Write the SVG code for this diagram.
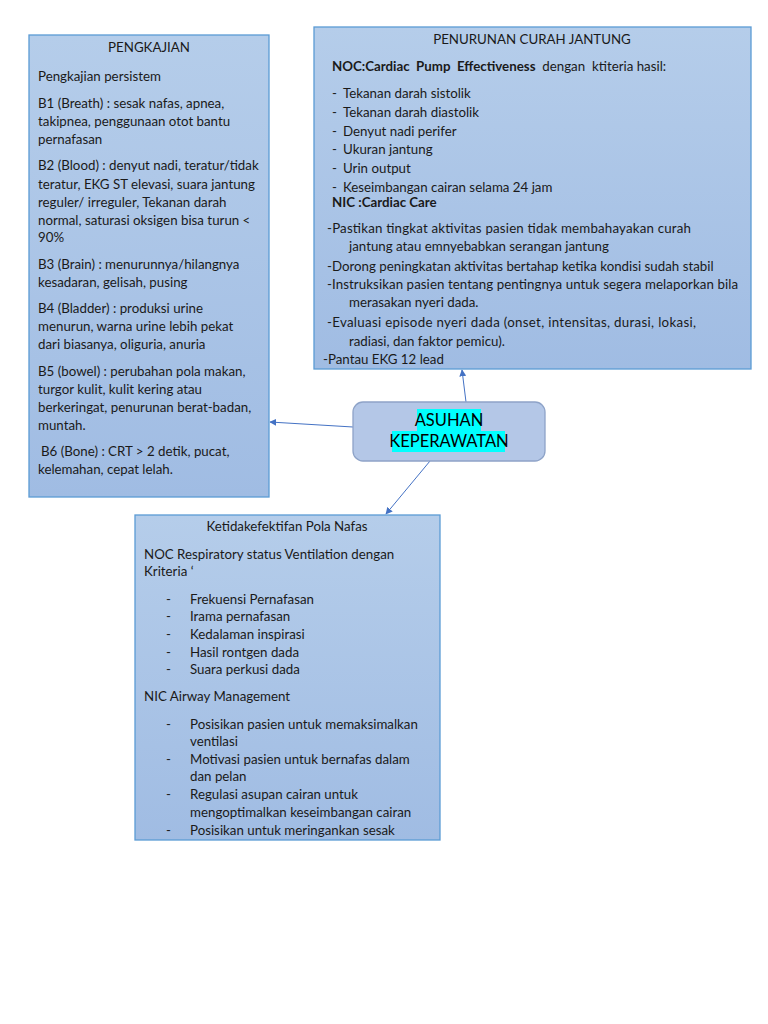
<svg xmlns="http://www.w3.org/2000/svg" width="768" height="1024" viewBox="0 0 768 1024">
<defs>
<linearGradient id="g" x1="0" y1="0" x2="0" y2="1">
<stop offset="0" stop-color="#b5cdea"/>
<stop offset="1" stop-color="#a0bce3"/>
</linearGradient>
<marker id="arr" viewBox="0 0 10 10" refX="9" refY="5" markerWidth="7" markerHeight="7" orient="auto-start-reverse" markerUnits="userSpaceOnUse">
<path d="M0,0 L10,5 L0,10 z" fill="#4472c4"/>
</marker>
<style>
.box{fill:url(#g);stroke:#5b9bd5;stroke-width:1.3}
text{font-family:Lato,"Open Sans","Liberation Sans",sans-serif;font-size:13.3px;fill:#1a1a1a}
.b{font-weight:bold}
.c{text-anchor:middle}
.pre{white-space:pre}
.conn{stroke:#4472c4;stroke-width:1;fill:none;marker-end:url(#arr)}
.hl{fill:#00ffff}
.big{font-size:16.5px;fill:#000}
</style>
</defs>
<rect width="768" height="1024" fill="#fff"/>

<g id="connectors">
<line class="conn" x1="353" y1="427" x2="270" y2="422"/>
<line class="conn" x1="466" y1="402" x2="462" y2="370"/>
<line class="conn" x1="430" y1="461" x2="386" y2="514"/>
</g>

<g id="pengkajian">
<rect class="box" x="29" y="35" width="240" height="462"/>
<text class="c" x="149" y="52">PENGKAJIAN</text>
<text x="38" y="81">Pengkajian persistem</text>
<text x="38" y="108">B1 (Breath) : sesak nafas, apnea,</text>
<text x="38" y="126">takipnea, penggunaan otot bantu</text>
<text x="38" y="144">pernafasan</text>
<text x="38" y="170">B2 (Blood) : denyut nadi, teratur/tidak</text>
<text x="38" y="189">teratur, EKG ST elevasi, suara jantung</text>
<text x="38" y="207">reguler/ irreguler, Tekanan darah</text>
<text x="38" y="225">normal, saturasi oksigen bisa turun &lt;</text>
<text x="38" y="242">90%</text>
<text x="38" y="269">B3 (Brain) : menurunnya/hilangnya</text>
<text x="38" y="287">kesadaran, gelisah, pusing</text>
<text x="38" y="313">B4 (Bladder) : produksi urine</text>
<text x="38" y="331">menurun, warna urine lebih pekat</text>
<text x="38" y="349">dari biasanya, oliguria, anuria</text>
<text x="38" y="376">B5 (bowel) : perubahan pola makan,</text>
<text x="38" y="394">turgor kulit, kulit kering atau</text>
<text x="38" y="412">berkeringat, penurunan berat-badan,</text>
<text x="38" y="430">muntah.</text>
<text x="41" y="456">B6 (Bone) : CRT &gt; 2 detik, pucat,</text>
<text x="38" y="474">kelemahan, cepat lelah.</text>
</g>

<g id="penurunan">
<rect class="box" x="314" y="27" width="437" height="342"/>
<text class="c" x="532" y="44">PENURUNAN CURAH JANTUNG</text>
<text class="pre" x="332" y="71"><tspan class="b">NOC:Cardiac  Pump  Effectiveness</tspan>  dengan  ktiteria hasil:</text>
<text x="332" y="98">-</text><text x="343" y="98">Tekanan darah sistolik</text>
<text x="332" y="117">-</text><text x="343" y="117">Tekanan darah diastolik</text>
<text x="332" y="136">-</text><text x="343" y="136">Denyut nadi perifer</text>
<text x="332" y="154">-</text><text x="343" y="154">Ukuran jantung</text>
<text x="332" y="173">-</text><text x="343" y="173">Urin output</text>
<text x="332" y="192">-</text><text x="343" y="192">Keseimbangan cairan selama 24 jam</text>
<text class="b" x="332" y="207">NIC :Cardiac Care</text>
<text x="327" y="233" textLength="364" lengthAdjust="spacing">-Pastikan tingkat aktivitas pasien tidak membahayakan curah</text>
<text x="349" y="251">jantung atau emnyebabkan serangan jantung</text>
<text x="327" y="271">-Dorong peningkatan aktivitas bertahap ketika kondisi sudah stabil</text>
<text x="327" y="289" textLength="411" lengthAdjust="spacing">-Instruksikan pasien tentang pentingnya untuk segera melaporkan bila</text>
<text x="349" y="307">merasakan nyeri dada.</text>
<text x="327" y="327" textLength="369" lengthAdjust="spacing">-Evaluasi episode nyeri dada (onset, intensitas, durasi, lokasi,</text>
<text x="349" y="346">radiasi, dan faktor pemicu).</text>
<text x="323" y="364">-Pantau EKG 12 lead</text>
</g>

<g id="asuhan">
<rect x="353" y="402" width="192" height="59" rx="10" ry="10" fill="#b4c7e7" stroke="#8ea3c8" stroke-width="1.3"/>
<rect class="hl" x="417" y="409" width="64" height="22"/>
<rect class="hl" x="392" y="431" width="113" height="21"/>
<text class="c big" x="449" y="426">ASUHAN</text>
<text class="c big" x="449" y="447">KEPERAWATAN</text>
</g>

<g id="pola-nafas">
<rect class="box" x="135" y="515" width="305" height="325"/>
<text class="c" x="287" y="531">Ketidakefektifan Pola Nafas</text>
<text x="144" y="559">NOC Respiratory status Ventilation dengan</text>
<text x="144" y="576">Kriteria ‘</text>
<text x="166" y="604">-</text><text x="190" y="604">Frekuensi Pernafasan</text>
<text x="166" y="621">-</text><text x="190" y="621">Irama pernafasan</text>
<text x="166" y="639">-</text><text x="190" y="639">Kedalaman inspirasi</text>
<text x="166" y="657">-</text><text x="190" y="657">Hasil rontgen dada</text>
<text x="166" y="674">-</text><text x="190" y="674">Suara perkusi dada</text>
<text x="144" y="701">NIC Airway Management</text>
<text x="166" y="729">-</text><text x="190" y="729">Posisikan pasien untuk memaksimalkan</text>
<text x="190" y="746">ventilasi</text>
<text x="166" y="764">-</text><text x="190" y="764">Motivasi pasien untuk bernafas dalam</text>
<text x="190" y="781">dan pelan</text>
<text x="166" y="799">-</text><text x="190" y="799">Regulasi asupan cairan untuk</text>
<text x="190" y="817">mengoptimalkan keseimbangan cairan</text>
<text x="166" y="835">-</text><text x="190" y="835">Posisikan untuk meringankan sesak</text>
</g>
</svg>
